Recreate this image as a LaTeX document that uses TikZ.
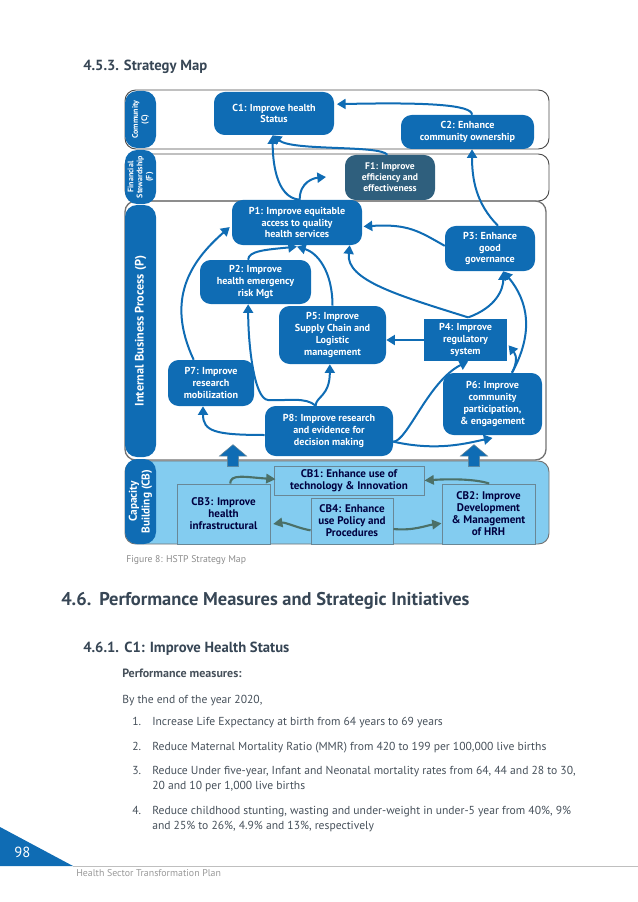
\documentclass[tikz,border=0pt]{standalone}
\usepackage{amsmath}
\usepackage{fontspec}
\setmainfont{PT Sans}
\usetikzlibrary{arrows.meta,shapes.arrows}
\definecolor{mapblue}{RGB}{15,108,180}
\definecolor{mapdark}{RGB}{47,95,125}
\definecolor{maplight}{RGB}{131,204,240}
\definecolor{mapgreen}{RGB}{75,112,104}
\definecolor{mapline}{RGB}{105,135,150}
\definecolor{headcol}{RGB}{55,70,85}
\definecolor{bodycol}{RGB}{70,80,90}
\tikzset{
  band/.style={draw=black!70,line width=0.7pt,rounded corners=8pt,inner sep=0pt},
  sidetab/.style={fill=mapblue,text=white,rounded corners=9pt,inner sep=0pt,rotate=90,align=center,font=\fontsize{6}{6.8}\selectfont\bfseries},
  goal/.style={fill=mapblue,text=white,rounded corners=8pt,inner sep=0pt,align=center,font=\fontsize{7.6}{8.8}\selectfont\bfseries},
  cbbox/.style={fill=maplight,draw=mapline,line width=0.7pt,inner sep=0pt,align=center,text=black!75!blue,font=\fontsize{8.3}{9}\selectfont\bfseries},
  flow/.style={draw=mapblue,line width=1.5pt,-{Triangle[length=6.5pt,width=7.5pt]}},
  cbflow/.style={draw=mapgreen,line width=1.6pt,-{Triangle[length=7pt,width=7pt]}},
  uparrow/.style={single arrow,fill=mapblue,draw=mapline,line width=0.4pt,rotate=90,inner sep=0pt,minimum height=16.5pt,minimum width=20pt,single arrow head extend=6pt,single arrow tip angle=100},
  pagetext/.style={anchor=west,inner sep=0pt,text height=7pt,text depth=2pt,text=bodycol,font=\fontsize{8.7}{11}\selectfont},
  headtext/.style={anchor=west,inner sep=0pt,text height=9pt,text depth=2.5pt,text=headcol,font=\fontsize{11}{13}\selectfont\bfseries},
}
\begin{document}
\begin{tikzpicture}[x=0.75pt,y=0.75pt,yscale=-1,xscale=1]
\useasboundingbox (0,0) rectangle (638,902);

%Page heading
\node [headtext] (headmap) at (83,66) {4.5.3. Strategy Map};

%Bands
\node [band,minimum width=318pt,minimum height=44.25pt] (bandc) at (337,119.5) {};
\node [band,minimum width=318pt,minimum height=35.25pt] (bandf) at (337,177.5) {};
\node [band,draw=black!55,line width=1pt,minimum width=315.75pt,minimum height=194.25pt] (bandp) at (335.5,330.5) {};
\node [band,fill=maplight,draw=black!55,minimum width=318pt,minimum height=62.25pt] (bandcb) at (337,502.5) {};

%Side tabs
\node [sidetab,minimum width=42.75pt,minimum height=23.25pt] (tabc) at (140.5,119.5) {Community\\(C)};
\node [sidetab,minimum width=40.5pt,minimum height=23.25pt] (tabf) at (140.5,177) {Financial\\Stewardship\\(F)};
\node [sidetab,minimum width=189pt,minimum height=23.25pt,font=\fontsize{9.2}{11}\selectfont\bfseries] (tabp) at (140.5,331) {Internal Business Process (P)};
\node [sidetab,minimum width=63.75pt,minimum height=23.25pt,font=\fontsize{8.5}{9.5}\selectfont\bfseries] (tabcb) at (140.5,501.5) {Capacity\\Building (CB)};

%Objectives
\node [goal,minimum width=90pt,minimum height=32.25pt] (c1) at (274,113.5) {C1: Improve health\\Status};
\node [goal,minimum width=99.75pt,minimum height=25.5pt] (c2) at (467.5,132) {C2: Enhance\\community ownership};
\node [goal,fill=mapdark,minimum width=67.5pt,minimum height=33.75pt,font=\fontsize{7.2}{8.2}\selectfont\bfseries] (f1) at (390,177.5) {F1: Improve\\efficiency and\\effectiveness};
\node [goal,minimum width=97.5pt,minimum height=33.75pt] (p1) at (297,222.5) {P1: Improve equitable\\access to quality\\health services};
\node [goal,minimum width=83.25pt,minimum height=33pt] (p2) at (255.5,282) {P2: Improve\\health emergency\\risk Mgt};
\node [goal,minimum width=67.5pt,minimum height=33.75pt] (p3) at (490,248.5) {P3: Enhance\\good\\governance};
\node [goal,rounded corners=0pt,minimum width=62.25pt,minimum height=31.5pt] (p4) at (465.5,340) {P4: Improve\\regulatory\\system};
\node [goal,minimum width=80.25pt,minimum height=43.5pt] (p5) at (332.5,335) {P5: Improve\\Supply Chain and\\Logistic\\management};
\node [goal,minimum width=74.25pt,minimum height=46.5pt] (p6) at (492.5,404) {P6: Improve\\community\\participation,\\\& engagement};
\node [goal,minimum width=64.5pt,minimum height=34.5pt] (p7) at (211,383) {P7: Improve\\research\\mobilization};
\node [goal,minimum width=96pt,minimum height=37.5pt] (p8) at (329,431) {P8: Improve research\\and evidence for\\decision making};

%Capacity boxes
\node [cbbox,minimum width=112.5pt,minimum height=21.75pt] (cb1) at (349,480.5) {CB1: Enhance use of\\technology \& Innovation};
\node [cbbox,minimum width=69.75pt,minimum height=45pt] (cb3) at (223.5,514) {CB3: Improve\\health\\infrastructural};
\node [cbbox,minimum width=61.5pt,minimum height=34.5pt] (cb4) at (352,521) {CB4: Enhance\\use Policy and\\Procedures};
\node [cbbox,minimum width=69.75pt,minimum height=45pt] (cb2) at (488.5,514) {CB2: Improve\\Development\\\& Management\\of HRH};

%Block arrows
\node [uparrow] (upleft) at (233,458) {\phantom{\rule{0pt}{8pt}}};
\node [uparrow] (upright) at (474,458) {\phantom{\rule{0pt}{8pt}}};

%Curve Lines
\draw [flow] ([xshift=3.4pt]c2.north) .. controls +(0,-10) and +(90,-2) .. ([xshift=2pt,yshift=-7pt]c1.east);
\draw [flow] ([xshift=-2pt]f1.north) .. controls +(-8,-10) and +(20,16) .. ([xshift=-1pt]c1.south);
\draw [flow] ([xshift=2pt]p1.north) .. controls +(-25,-2) and +(0,22) .. ([xshift=-1pt]c1.south);
\coordinate (f1gap) at (326,177);
\draw [flow] ([xshift=2pt]p1.north) .. controls +(0,-18) and +(-12,1) .. (f1gap);
\draw [flow] ([xshift=6pt]p3.north) .. controls +(-22,-22) and +(0,30) .. ([xshift=3.4pt]c2.south);
\draw [flow] ([yshift=-2pt]p3.west) .. controls +(-25,-14) and +(45,-3) .. ([xshift=1pt,yshift=3pt]p1.east);
\draw [flow] ([xshift=-5.5pt]p2.north) .. controls +(0,-9) and +(-30,3) .. ([yshift=1pt]p1.south);
\draw [flow] (p5.north) .. controls +(0,-35) and +(20,6) .. ([yshift=1pt]p1.south);
\draw [flow] ([xshift=2pt,yshift=-1pt]p4.north) .. controls +(-70,-22) and +(-4,35) .. ([xshift=39.5pt]p1.south);
\draw [flow] ([xshift=2pt,yshift=-1pt]p4.north) .. controls +(28,-10) and +(0,18) .. ([xshift=10pt]p3.south);
\draw [flow] ([xshift=14.6pt]p6.north) .. controls +(22,-40) and +(25,30) .. ([xshift=10pt]p3.south);
\draw [flow] ([xshift=14.6pt]p6.north) .. controls +(4,-7) and +(9,11) .. ([xshift=1pt,yshift=4pt]p4.east);
\draw [flow] ([yshift=8pt]p8.east) .. controls +(14,0) and +(-40,20) .. ([xshift=2pt]p4.south);
\draw [flow] ([yshift=8pt]p8.east) .. controls +(45,10) and +(-25,5) .. ([yshift=2pt]p6.south);
\draw [flow] ([yshift=3pt]p8.west) .. controls +(-50,0) and +(0,25) .. ([xshift=-6pt]p7.south);
\draw [flow] ([xshift=-10pt]p8.north) .. controls +(0,-9) and +(0,32) .. ([xshift=-2pt]p5.south);
\coordinate (p8bend) at (268,400);
\draw [flow] ([xshift=-10pt]p8.north) .. controls +(-10,-9) and +(20,1) .. (p8bend) .. controls +(-14,-1) and +(0,40) .. ([xshift=-5.5pt]p2.south);
\draw [flow] ([xshift=-13pt]p7.north) .. controls +(-28,-60) and +(-40,35) .. ([xshift=-1.5pt,yshift=3.4pt]p1.west);
\draw [flow] (p4.west) -- (p5.east |- p4.west);

%Capacity arrows
\draw [cbflow] ([xshift=5pt]cb3.north) .. controls +(0,-10) and +(-30,-2) .. ([xshift=1.5pt,yshift=-1pt]cb1.west);
\draw [cbflow] ([xshift=0.5pt]cb2.north) .. controls +(-12,-4) and +(30,-2) .. (cb1.east);
\draw [cbflow] ([yshift=7pt]cb4.west) .. controls +(-12,-2) and +(12,-2) .. ([yshift=7.5pt,xshift=2pt]cb3.east);
\draw [cbflow] ([yshift=6pt]cb4.east) .. controls +(20,2) and +(-15,2) .. ([yshift=7pt]cb2.west);

%Caption and page text
\node [pagetext,text=black!45,font=\fontsize{7.3}{8}\selectfont] (figcap) at (126,559) {Figure 8: HSTP Strategy Map};
\node [headtext,font=\fontsize{13.85}{16}\selectfont\bfseries] (headsec) at (61,601) {4.6.\hspace{6pt}Performance Measures and Strategic Initiatives};
\node [headtext] (headsub) at (83,648) {4.6.1.\hspace{4pt}C1: Improve Health Status};
\node [pagetext,font=\fontsize{9}{11}\selectfont\bfseries] (measures) at (122,674) {Performance measures:};
\node [pagetext] (byend) at (122,700) {By the end of the year 2020,};
\node [pagetext] (num1) at (132,722) {1.};
\node [pagetext] (item1) at (152,722) {Increase Life Expectancy at birth from 64 years to 69 years};
\node [pagetext] (num2) at (132,747) {2.};
\node [pagetext] (item2) at (152,747) {Reduce Maternal Mortality Ratio (MMR) from 420 to 199 per 100,000 live births};
\node [pagetext] (num3) at (132,771) {3.};
\node [pagetext] (item3) at (152,771) {Reduce Under five-year, Infant and Neonatal mortality rates from 64, 44 and 28 to 30,};
\node [pagetext] (item3b) at (152,786) {20 and 10 per 1,000 live births};
\node [pagetext] (num4) at (132,811) {4.};
\node [pagetext] (item4) at (152,811) {Reduce childhood stunting, wasting and under-weight in under-5 year from 40\%, 9\%};
\node [pagetext] (item4b) at (152,826) {and 25\% to 26\%, 4.9\% and 13\%, respectively};

%Footer
\fill [mapblue] (0,827) -- (73,866) -- (0,866) -- cycle;
\node [pagetext,text=white,font=\fontsize{11}{13}\selectfont] (pagenum) at (14,854) {98};
\coordinate (rulestart) at (73,866);
\coordinate (ruleend) at (638,866);
\draw [black!25,line width=0.5pt] (rulestart) -- (ruleend);
\node [pagetext,text=black!40,font=\fontsize{7.4}{8}\selectfont] (footer) at (76,873) {Health Sector Transformation Plan};
\end{tikzpicture}
\end{document}
